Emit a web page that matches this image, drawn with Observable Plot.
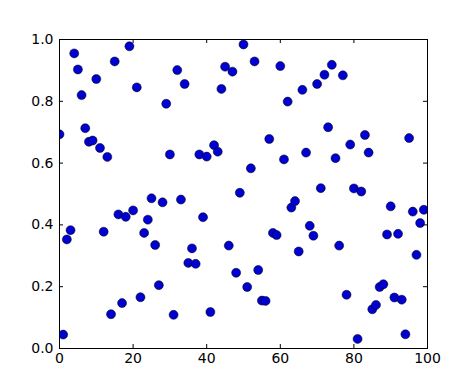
<!DOCTYPE html>
<html>
<head>
<meta charset="utf-8">
<script src="https://cdn.jsdelivr.net/npm/d3@7"></script>
<script src="https://cdn.jsdelivr.net/npm/@observablehq/plot@0.6"></script>
<style>
  html, body { margin: 0; padding: 0; background: #fff; }
  #chart svg { display: block; }
</style>
</head>
<body>
<div id="chart"></div>
<script>
const yValues = [
  0.693, 0.045, 0.353, 0.383, 0.955, 0.903, 0.820, 0.713, 0.669, 0.673,
  0.872, 0.649, 0.378, 0.620, 0.111, 0.929, 0.434, 0.147, 0.426, 0.978,
  0.447, 0.845, 0.166, 0.374, 0.417, 0.486, 0.335, 0.205, 0.473, 0.792,
  0.628, 0.109, 0.901, 0.482, 0.856, 0.277, 0.324, 0.274, 0.628, 0.425,
  0.621, 0.118, 0.658, 0.637, 0.840, 0.912, 0.333, 0.896, 0.245, 0.504,
  0.984, 0.199, 0.583, 0.929, 0.254, 0.155, 0.154, 0.678, 0.374, 0.367,
  0.914, 0.612, 0.799, 0.456, 0.477, 0.314, 0.837, 0.634, 0.397, 0.365,
  0.856, 0.519, 0.886, 0.716, 0.918, 0.616, 0.333, 0.884, 0.174, 0.660,
  0.518, 0.031, 0.508, 0.691, 0.634, 0.127, 0.141, 0.199, 0.208, 0.369,
  0.460, 0.165, 0.371, 0.158, 0.046, 0.681, 0.443, 0.303, 0.406, 0.449
];
const xTicks = [0, 20, 40, 60, 80, 100];
const yTicks = [0.0, 0.2, 0.4, 0.6, 0.8, 1.0];

const data = yValues.map((y, i) => ({x: i, y}));

const W = 474, H = 387;
const mL = 59, mR = 47, mT = 39, mB = 39;
const fw = W - mL - mR, fh = H - mT - mB;
const tick = 4;

const chart = Plot.plot({
  width: W,
  height: H,
  marginLeft: mL,
  marginRight: mR,
  marginTop: mT,
  marginBottom: mB,
  style: {fontFamily: "DejaVu Sans", fontSize: "14px", color: "#000", background: "#fff"},
  x: {domain: [0, 100]},
  y: {domain: [0, 1]},
  marks: [
    Plot.dot(data, {x: "x", y: "y", r: 4.5, fill: "#0000d0", stroke: "#000", strokeWidth: 0.5, clip: true}),
    Plot.frame({stroke: "#000", strokeWidth: 1}),
    Plot.tickX(xTicks, {x: d => d, insetTop: fh - tick, stroke: "#000"}),
    Plot.tickX(xTicks, {x: d => d, insetBottom: fh - tick, stroke: "#000"}),
    Plot.tickY(yTicks, {y: d => d, insetRight: fw - tick, stroke: "#000"}),
    Plot.tickY(yTicks, {y: d => d, insetLeft: fw - tick, stroke: "#000"}),
    Plot.axisX(xTicks, {tickSize: 0, tickPadding: 5, label: null, tickFormat: d => String(d)}),
    Plot.axisY(yTicks, {tickSize: 0, tickPadding: 6, label: null, tickFormat: d => d.toFixed(1)})
  ]
});
document.getElementById("chart").appendChild(chart);
</script>
</body>
</html>
